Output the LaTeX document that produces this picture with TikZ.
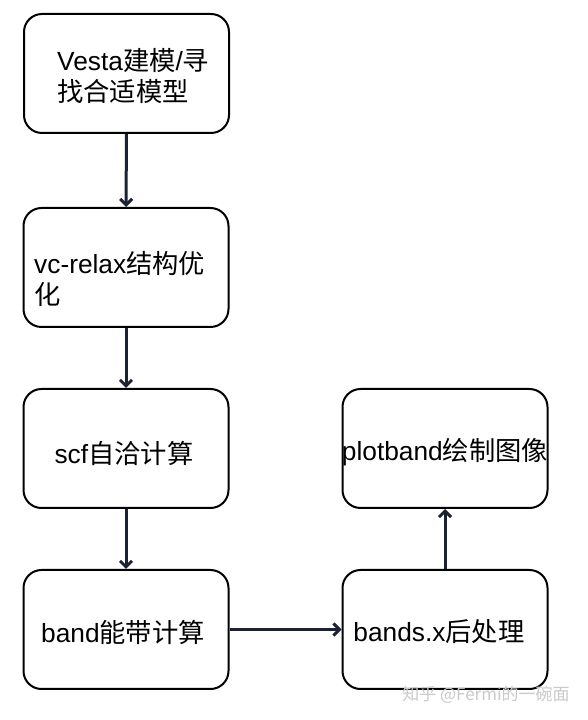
\documentclass[tikz,border=0pt]{standalone}
\usepackage{fontspec}
\setmainfont{Liberation Sans}
\newfontfamily\cjk{Noto Sans CJK SC}
\usetikzlibrary{arrows.meta}
\definecolor{linec}{HTML}{1B2233}
\definecolor{wm}{HTML}{CACACA}
\begin{document}
\begin{tikzpicture}[x=1pt,y=1pt,
  box/.style={draw=black, line width=2pt, rounded corners=18pt, minimum width=205pt, minimum height=119pt, inner sep=0pt},
  lbl/.style={font=\fontsize{26.3}{31}\selectfont, align=left, inner sep=0pt, text=black},
  conn/.style={draw=linec, line width=3pt, -{Straight Barb[length=6pt,width=12pt,line width=3pt]}},
  wmark/.style={font=\fontsize{17}{20}\selectfont\cjk, text=wm, inner sep=0pt}]
\fill[white] (0,0) rectangle (588,720);
\useasboundingbox (0,0) rectangle (588,720);
% boxes
\node[box] (b1) at (126.5,646.5) {};
\node[box] (b2) at (126,452.5) {};
\node[box] (b3) at (126,271.5) {};
\node[box] (b4) at (126,90.5) {};
\node[box] (b5) at (445,271.5) {};
\node[box] (b6) at (445,90.5) {};
% labels
\node[lbl, anchor=west] (t1) at (57,644) {Vesta{\cjk 建模}/{\cjk 寻}\\{\cjk 找合适模型}};
\node[lbl, anchor=west] (t2) at (34,441) {vc-relax{\cjk 结构优}\\{\cjk 化}};
\node[lbl] (t3) at (124,267) {scf{\cjk 自洽计算}};
\node[lbl] (t4) at (123,88) {band{\cjk 能带计算}};
\node[lbl] (t5) at (445,268) {plotband{\cjk 绘制图像}};
\node[lbl] (t6) at (439,88) {bands.x{\cjk 后处理}};
% connectors
\draw[conn] (b1) -- (b2);
\draw[conn] (b2) -- (b3);
\draw[conn] (b3) -- (b4);
\draw[conn] (b4) -- (b6);
\draw[conn] (b6) -- (b5);
% watermark
\node[wmark] (wm) at (486,25) {知乎 @Fermi的一碗面};
\end{tikzpicture}
\end{document}
